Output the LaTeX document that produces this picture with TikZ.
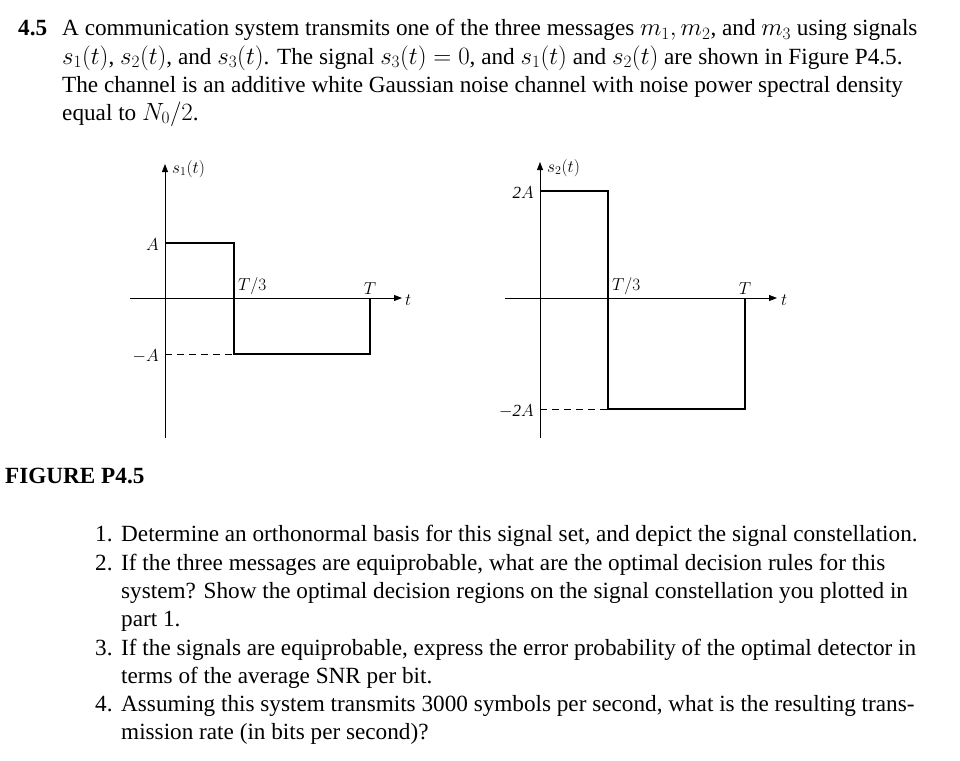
\documentclass[tikz,border=0pt]{standalone}
\usepackage{fontspec}
\setmainfont{Liberation Serif}
\usetikzlibrary{arrows.meta}
\begin{document}
\begin{tikzpicture}[x=1pt,y=-1pt,
  txt/.style={anchor=base west,inner sep=0pt,font=\fontsize{23.2}{28}\selectfont},
  lbl/.style={inner sep=1pt,font=\fontsize{17}{19}\selectfont\itshape},
  axis/.style={line width=0.8pt,-{Triangle[length=8pt,width=6pt]}},
  sig/.style={line width=1.4pt},
  dsh/.style={line width=0.8pt,dash pattern=on 7pt off 5pt}]
\useasboundingbox (0,0) rectangle (960,760);
% text
\node[txt] (h0) at (18,36) {\textbf{4.5}};
\node[txt] (l1) at (62,36) {A communication system transmits one of the three messages $m_1, m_2$, and $m_3$ using signals};
\node[txt] (l2) at (62,64) {$s_1(t)$, $s_2(t)$, and $s_3(t)$. The signal $s_3(t)=0$, and $s_1(t)$ and $s_2(t)$ are shown in Figure P4.5.};
\node[txt] (l3) at (62,92) {The channel is an additive white Gaussian noise channel with noise power spectral density};
\node[txt] (l4) at (62,120) {equal to $N_0/2$.};
\node[txt] (fig) at (5,483) {\textbf{FIGURE P4.5}};
\node[txt] (n1) at (95,541) {1.};
\node[txt] (q1) at (121,541) {Determine an orthonormal basis for this signal set, and depict the signal constellation.};
\node[txt] (n2) at (95,570) {2.};
\node[txt] (q2a) at (121,570) {If the three messages are equiprobable, what are the optimal decision rules for this};
\node[txt] (q2b) at (121,598) {system? Show the optimal decision regions on the signal constellation you plotted in};
\node[txt] (q2c) at (121,626) {part 1.};
\node[txt] (n3) at (95,655) {3.};
\node[txt] (q3a) at (121,655) {If the signals are equiprobable, express the error probability of the optimal detector in};
\node[txt] (q3b) at (121,683) {terms of the average SNR per bit.};
\node[txt] (n4) at (95,711) {4.};
\node[txt] (q4a) at (121,711) {Assuming this system transmits 3000 symbols per second, what is the resulting trans-};
\node[txt] (q4b) at (121,739) {mission rate (in bits per second)?};
% left plot
\coordinate (a1b) at (165,438); \coordinate (a1t) at (165,164);
\coordinate (h1l) at (130,298); \coordinate (h1r) at (402,298);
\draw[axis] (a1b) -- (a1t);
\draw[axis] (h1l) -- (h1r);
\node[lbl,anchor=west] (s1l) at (171,169) {$s_1(t)$};
\node[lbl,anchor=west] (t1) at (404,300) {$t$};
\node[lbl,anchor=east] (A1) at (160,245) {$A$};
\node[lbl,anchor=east] (mA1) at (160,356) {$-A$};
\node[lbl,anchor=south west] (T31) at (237,296) {$T/3$};
\node[lbl,anchor=south] (T1) at (370,296) {$T$};
\draw[sig] (165,243) -- (234,243) -- (234,354) -- (370,354) -- (370,298);
\draw[dsh] (165,354) -- (234,354);
% right plot
\coordinate (a2b) at (540,438); \coordinate (a2t) at (540,162);
\coordinate (h2l) at (505,298); \coordinate (h2r) at (777,298);
\draw[axis] (a2b) -- (a2t);
\draw[axis] (h2l) -- (h2r);
\node[lbl,anchor=west] (s2l) at (546,168) {$s_2(t)$};
\node[lbl,anchor=west] (t2) at (780,300) {$t$};
\node[lbl,anchor=east] (A2) at (535,193) {2$A$};
\node[lbl,anchor=east] (mA2) at (535,411) {$-$2$A$};
\node[lbl,anchor=south west] (T32) at (611,296) {$T/3$};
\node[lbl,anchor=south] (T2) at (745,296) {$T$};
\draw[sig] (540,191) -- (608,191) -- (608,409) -- (745,409) -- (745,298);
\draw[dsh] (540,409) -- (608,409);
\end{tikzpicture}
\end{document}
